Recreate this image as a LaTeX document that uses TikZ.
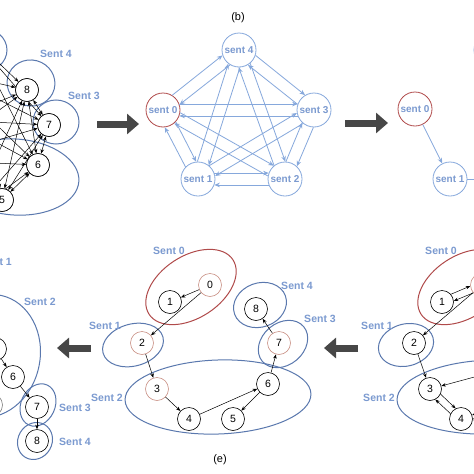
\documentclass[tikz,border=0pt]{standalone}
\usepackage{fontspec}
\setmainfont{Liberation Sans}
\usetikzlibrary{arrows.meta,calc}
\definecolor{sentblue}{HTML}{5A78AE}
\definecolor{lblblue}{HTML}{7B9AD0}
\definecolor{edgeblue}{HTML}{86A8DC}
\definecolor{sentred}{HTML}{B04A4A}
\definecolor{noderust}{HTML}{C99084}
\definecolor{bigarrow}{HTML}{474747}
\tikzset{
  numnode/.style={circle, draw=black, line width=0.6pt, minimum size=23pt, inner sep=0pt, fill=white, font=\fontsize{10.5}{10.5}\selectfont},
  rustnode/.style={numnode, draw=noderust},
  sentnode/.style={circle, draw=edgeblue, line width=0.8pt, minimum size=34pt, inner sep=0pt, fill=white, text=lblblue, font=\bfseries\fontsize{10}{10}\selectfont},
  rednode/.style={sentnode, draw=sentred},
  sentlbl/.style={text=lblblue, font=\bfseries\fontsize{10.5}{10.5}\selectfont, inner sep=0pt},
  caplbl/.style={font=\fontsize{11}{11}\selectfont, inner sep=0pt},
  grp/.style={draw=sentblue, line width=1pt},
  redgrp/.style={draw=sentred, line width=1pt},
  edge/.style={-{Stealth[length=4.5pt,width=3.5pt]}, line width=0.5pt},
  dedge/.style={{Stealth[length=4.5pt,width=3.5pt]}-{Stealth[length=4.5pt,width=3.5pt]}, line width=0.5pt},
  bedge/.style={-{Stealth[length=5.5pt,width=4.5pt]}, draw=edgeblue, line width=0.8pt},
  bigarr/.style={line width=7pt, draw=bigarrow, -{Triangle[length=12pt,width=20pt]}}
}
\begin{document}
\begin{tikzpicture}[x=1pt,y=-1pt]
\useasboundingbox (0,0) rectangle (474,474);
\clip (0,0) rectangle (474,474);
\fill[white] (0,0) rectangle (474,474);

% ---------------- captions
\node[caplbl] (capb) at (238,18) {(b)};
\node[caplbl] (cape) at (220,460) {(e)};

% ---------------- big arrows
\coordinate (ar1s) at (97,124);  \coordinate (ar1e) at (139,124);
\coordinate (ar2s) at (345,123); \coordinate (ar2e) at (388,123);
\coordinate (ar3s) at (91,348);  \coordinate (ar3e) at (57,348);
\coordinate (ar4s) at (358,348); \coordinate (ar4e) at (324,348);
\draw[bigarr] (ar1s) -- (ar1e);
\draw[bigarr] (ar2s) -- (ar2e);
\draw[bigarr] (ar3s) -- (ar3e);
\draw[bigarr] (ar4s) -- (ar4e);

% ---------------- panel (a)
\draw[grp, shift={(-18,50)}] (0,0) ellipse [x radius=25pt, y radius=22pt];
\draw[grp, shift={(31,83)}, rotate=-15] (0,0) ellipse [x radius=24pt, y radius=23pt];
\draw[grp, shift={(56,122)}] (0,0) ellipse [x radius=23pt, y radius=22pt];
\draw[grp, shift={(15,177)}, rotate=-4] (0,0) ellipse [x radius=64pt, y radius=38pt];
\node[sentlbl] (la4) at (56,54) {Sent 4};
\node[sentlbl] (la3) at (84,96) {Sent 3};
\coordinate (a0) at (-60,70);
\coordinate (a1) at (-45,120);
\coordinate (a2) at (-70,160);
\coordinate (a3) at (-30,215);
\coordinate (a4) at (-25,40);
\node[numnode] (a8) at (27,90) {8};
\node[numnode] (a7) at (49,125) {7};
\node[numnode] (a6) at (38,165) {6};
\node[numnode] (a5) at (2,200) {5};
\foreach \s in {a0,a1,a2,a3,a4}{
  \foreach \t in {a5,a6,a7,a8}{
    \draw[dedge] (\s) -- (\t);
  }
}
\draw[dedge] (a8) -- (a7);
\draw[dedge] (a7) -- (a6);
\draw[dedge] (a6) -- (a5);
\draw[dedge] (a8) -- (a6);
\draw[dedge] (a8) -- (a5);
\draw[dedge] (a7) -- (a5);
\node[numnode] at (a8) {8};
\node[numnode] at (a7) {7};
\node[numnode] at (a6) {6};
\node[numnode] at (a5) {5};

% ---------------- panel (b)
\node[sentnode] (b4) at (239,50) {sent 4};
\node[rednode]  (b0) at (163,110) {sent 0};
\node[sentnode] (b3) at (314,110) {sent 3};
\node[sentnode] (b1) at (198,179) {sent 1};
\node[sentnode] (b2) at (285,179) {sent 2};
\foreach \a/\b in {b0/b1,b0/b2,b0/b3,b0/b4,b1/b2,b1/b3,b1/b4,b2/b3,b2/b4,b3/b4,
                   b1/b0,b2/b0,b3/b0,b4/b0,b2/b1,b3/b1,b4/b1,b3/b2,b4/b2,b4/b3}{
  \draw[bedge] let \p1=(\a), \p2=(\b), \n1={atan2(\y2-\y1,\x2-\x1)},
      \n2={\n1+20}, \n3={\n1+160} in (\a.\n2) -- (\b.\n3);
}

% ---------------- panel (c)
\node[rednode]  (c0) at (415,109) {sent 0};
\node[sentnode] (c1) at (450,179) {sent 1};
\node[sentnode] (c4) at (491,50) {};
\coordinate (c2) at (520,179);
\draw[bedge] (c0) -- (c1);
\draw[bedge] (c1) -- (c2);

% ---------------- panel (e)
\draw[redgrp, shift={(191,287)}, rotate=33] (0,0) ellipse [x radius=50pt, y radius=31pt];
\draw[grp, shift={(133,345)}, rotate=15] (0,0) ellipse [x radius=31pt, y radius=21pt];
\draw[grp, shift={(218,397)}, rotate=2] (0,0) ellipse [x radius=93pt, y radius=37pt];
\draw[grp, shift={(283,344)}, rotate=40] (0,0) ellipse [x radius=27pt, y radius=21pt];
\draw[grp, shift={(260,305)}, rotate=20] (0,0) ellipse [x radius=27pt, y radius=22pt];
\node[sentlbl] (le0) at (169,251) {Sent 0};
\node[sentlbl] (le1) at (105,326) {Sent 1};
\node[sentlbl] (le2) at (107,398) {Sent 2};
\node[sentlbl] (le3) at (320,319) {Sent 3};
\node[sentlbl] (le4) at (297,286) {Sent 4};
\node[rustnode] (e0) at (210,285) {0};
\node[numnode]  (e1) at (170,302) {1};
\node[rustnode] (e2) at (142,343) {2};
\node[rustnode] (e3) at (157,389) {3};
\node[numnode]  (e4) at (189,419) {4};
\node[numnode]  (e5) at (233,419) {5};
\node[numnode]  (e6) at (268,384) {6};
\node[rustnode] (e7) at (279,343) {7};
\node[numnode]  (e8) at (256,309) {8};
\draw[edge] (e0) -- (e1);
\draw[edge] (e0) -- (e2);
\draw[edge] (e2) -- (e3);
\draw[edge] (e3) -- (e4);
\draw[edge] (e4) -- (e6);
\draw[edge] (e6) -- (e5);
\draw[edge] (e6) -- (e7);
\draw[edge] (e7) -- (e8);

% ---------------- panel (f)
\draw[redgrp, shift={(463,287)}, rotate=33] (0,0) ellipse [x radius=50pt, y radius=31pt];
\draw[grp, shift={(406,345)}, rotate=15] (0,0) ellipse [x radius=28pt, y radius=21pt];
\draw[grp, shift={(490,397)}, rotate=2] (0,0) ellipse [x radius=93pt, y radius=37pt];
\node[sentlbl] (lf0) at (441,251) {Sent 0};
\node[sentlbl] (lf1) at (377,326) {Sent 1};
\node[sentlbl] (lf2) at (379,398) {Sent 2};
\node[rustnode] (f0) at (482,285) {};
\node[numnode]  (f1) at (442,302) {1};
\node[numnode]  (f2) at (414,343) {2};
\node[numnode]  (f3) at (430,389) {3};
\node[numnode]  (f4) at (461,419) {4};
\coordinate (fx) at (530,362);
\coordinate (fy) at (520,398);
\coordinate (fz) at (520,418);
\coordinate (fw) at (520,424);
\foreach \a/\b in {f1/f0,f0/f1,f3/f4,f4/f3}{
  \draw[edge] let \p1=(\a), \p2=(\b), \n1={atan2(\y2-\y1,\x2-\x1)},
      \n2={\n1+18}, \n3={\n1+162} in (\a.\n2) -- (\b.\n3);
}
\draw[edge] (f0) -- (f2);
\draw[edge] (f2) -- (f3);
\draw[edge] (fx) -- (f3);
\draw[edge] (fy) -- (f4);
\draw[edge, line width=1.2pt, draw=gray] (f4) -- (fz);
\draw[edge, draw=gray] (f4) -- (fw);

% ---------------- panel (d)
\draw[grp, shift={(-12,356)}, rotate=-12] (0,0) ellipse [x radius=52pt, y radius=62pt];
\draw[grp, shift={(38,405)}, rotate=65] (0,0) ellipse [x radius=22pt, y radius=17pt];
\draw[grp, shift={(35,441)}, rotate=60] (0,0) ellipse [x radius=19pt, y radius=17pt];
\node[sentlbl] (ld1) at (-4,262) {Sent 1};
\node[sentlbl] (ld2) at (40,302) {Sent 2};
\node[sentlbl] (ld3) at (75,408) {Sent 3};
\node[sentlbl] (ld4) at (75,442) {Sent 4};
\node[numnode] (dA) at (-5,349) {};
\node[numnode, draw=gray] (dB) at (-9,405) {};
\node[numnode] (d6) at (13,377) {6};
\node[numnode] (d7) at (37,407) {7};
\node[numnode] (d8) at (37,441) {8};
\draw[edge] (dA) -- (d6);
\draw[edge] (d6) -- (d7);
\draw[edge] (d7) -- (d8);
\end{tikzpicture}
\end{document}
